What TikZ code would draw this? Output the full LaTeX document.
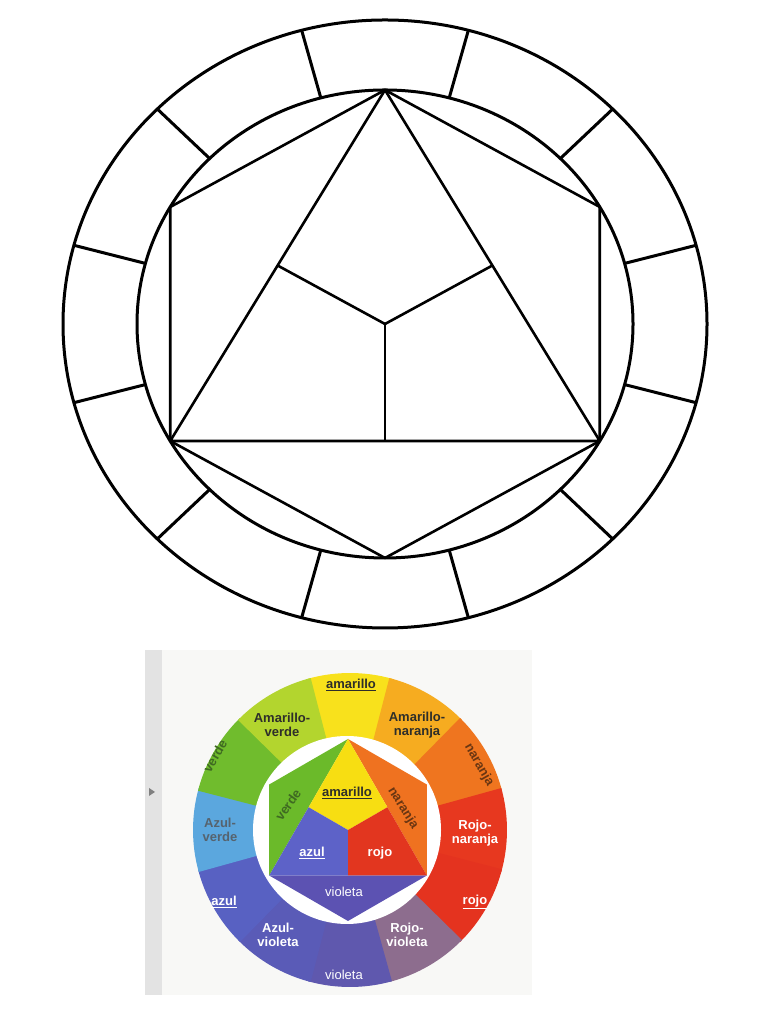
\documentclass[tikz,border=0pt]{standalone}
\usepackage{fontspec}
\setmainfont{Liberation Sans}
\usetikzlibrary{calc}
\definecolor{cAm}{HTML}{F8E11C}
\definecolor{cAmNa}{HTML}{F6AC20}
\definecolor{cNa}{HTML}{EF751F}
\definecolor{cRoNa}{HTML}{E7381F}
\definecolor{cRo}{HTML}{E4331F}
\definecolor{cRoVi}{HTML}{8D6D8E}
\definecolor{cVi}{HTML}{5F58AE}
\definecolor{cAzVi}{HTML}{5A5BB7}
\definecolor{cAz}{HTML}{5861C2}
\definecolor{cAzVe}{HTML}{5BA7DE}
\definecolor{cVe}{HTML}{70BC2D}
\definecolor{cAmVe}{HTML}{B3D52E}
\definecolor{iAm}{HTML}{F7DE12}
\definecolor{iVe}{HTML}{6BBA2A}
\definecolor{iNa}{HTML}{EF7220}
\definecolor{iRo}{HTML}{E2361F}
\definecolor{iAz}{HTML}{5D62C8}
\definecolor{iVi}{HTML}{5C52B2}
\definecolor{paper}{HTML}{F8F8F6}
\definecolor{bar}{HTML}{E3E3E3}
\definecolor{txtDark}{HTML}{2E2E2A}
\definecolor{txtGreen}{HTML}{3F6A22}
\definecolor{txtBrown}{HTML}{6A3612}
\definecolor{txtGray}{HTML}{56636E}
\begin{document}
\begin{tikzpicture}[x=1pt,y=1pt,
  ringline/.style={line width=3pt, black},
  innerline/.style={line width=2.6pt, black, line join=round},
  lbl/.style={font=\fontsize{13}{14.5}\selectfont\bfseries, align=center, inner sep=0pt},
  lblthin/.style={font=\fontsize{13}{14.5}\selectfont, align=center, inner sep=0pt},
]
\fill[white] (0,0) rectangle (768,1024);
\useasboundingbox (0,0) rectangle (768,1024);

% ---------------- top outline wheel ----------------
\begin{scope}[shift={(385,700)}]
  \draw[ringline] (0,0) ellipse [x radius=322, y radius=304];
  \draw[ringline] (0,0) ellipse [x radius=248, y radius=234];
  \foreach \a in {15,45,...,345}
    \draw[ringline] ({248*cos(\a)},{234*sin(\a)}) -- ({322*cos(\a)},{304*sin(\a)});
  \coordinate (h1) at ({248*cos(90)},{234*sin(90)});
  \coordinate (h2) at ({248*cos(150)},{234*sin(150)});
  \coordinate (h3) at ({248*cos(210)},{234*sin(210)});
  \coordinate (h4) at ({248*cos(270)},{234*sin(270)});
  \coordinate (h5) at ({248*cos(330)},{234*sin(330)});
  \coordinate (h6) at ({248*cos(30)},{234*sin(30)});
  \coordinate (tc) at (0,0);
  \coordinate (tmL) at ($(h1)!0.5!(h3)$);
  \coordinate (tmR) at ($(h1)!0.5!(h5)$);
  \coordinate (tmB) at ($(h3)!0.5!(h5)$);
  \draw[innerline] (h1) -- (h2) -- (h3) -- (h4) -- (h5) -- (h6) -- cycle;
  \draw[innerline] (h1) -- (h3) -- (h5) -- cycle;
  \draw[innerline] (tc) -- (tmL);
  \draw[innerline] (tc) -- (tmR);
  \draw[innerline] (tc) -- (tmB);
\end{scope}

% ---------------- bottom photo of colour wheel ----------------
\fill[paper] (162,29) rectangle (532,374);
\fill[bar] (145,29) rectangle (162,374);
\fill[black!50] (149,228) -- (149,236) -- (155,232) -- cycle;

\begin{scope}[shift={(350,194)}]
  \foreach \a/\c in {90/cAm,60/cAmNa,30/cNa,0/cRoNa,-30/cRo,-60/cRoVi,-90/cVi,-120/cAzVi,-150/cAz,180/cAzVe,150/cVe,120/cAmVe}
    \fill[\c] (0,0) -- ({\a-15.5}:157) arc[start angle={\a-15.5}, end angle={\a+15.5}, radius=157] -- cycle;
  \fill[white] (-3,0) circle[radius=94];
\end{scope}

\begin{scope}[shift={(348,194)}]
  \coordinate (p1) at (90:91);
  \coordinate (p2) at (150:91);
  \coordinate (p3) at (210:91);
  \coordinate (p4) at (270:91);
  \coordinate (p5) at (330:91);
  \coordinate (p6) at (30:91);
  \coordinate (g) at (0,0);
  \coordinate (m13) at ($(p1)!0.5!(p3)$);
  \coordinate (m35) at ($(p3)!0.5!(p5)$);
  \coordinate (m51) at ($(p5)!0.5!(p1)$);
  \fill[iVe] (p1) -- (p2) -- (p3) -- cycle;
  \fill[iNa] (p1) -- (p6) -- (p5) -- cycle;
  \fill[iVi] (p3) -- (p4) -- (p5) -- cycle;
  \fill[iAm] (p1) -- (m13) -- (g) -- (m51) -- cycle;
  \fill[iAz] (p3) -- (m35) -- (g) -- (m13) -- cycle;
  \fill[iRo] (p5) -- (m51) -- (g) -- (m35) -- cycle;
\end{scope}

% outer labels
\node[lbl, text=txtDark] (oAm) at (351,339) {\underline{amarillo}};
\node[lbl, text=txtDark] (oAmVe) at (282,299) {Amarillo-\\verde};
\node[lbl, text=txtDark] (oAmNa) at (417,299) {Amarillo-\\naranja};
\node[lbl, text=txtBrown, rotate=-60] (oNa) at (479,259) {naranja};
\node[lbl, text=white] (oRoNa) at (475,191) {Rojo-\\naranja};
\node[lbl, text=white] (oRo) at (475,122) {\underline{rojo}};
\node[lbl, text=white] (oRoVi) at (407,89) {Rojo-\\violeta};
\node[lblthin, text=white] (oVi) at (344,49) {violeta};
\node[lbl, text=white] (oAzVi) at (278,89) {Azul-\\violeta};
\node[lbl, text=white] (oAz) at (224,122) {\underline{azul}};
\node[lbl, text=txtGray] (oAzVe) at (220,194) {Azul-\\verde};
\node[lbl, text=txtGreen, rotate=60] (oVe) at (215,268) {verde};
% inner labels
\node[lbl, text=txtDark] (iAmL) at (347,231) {\underline{amarillo}};
\node[lbl, text=txtGreen, rotate=55] (iVeL) at (288,219) {verde};
\node[lbl, text=txtBrown, rotate=-58] (iNaL) at (403,216) {naranja};
\node[lbl, text=white] (iAzL) at (312,171) {\underline{azul}};
\node[lbl, text=white] (iRoL) at (380,171) {rojo};
\node[lblthin, text=white] (iViL) at (344,132) {violeta};
\end{tikzpicture}
\end{document}
